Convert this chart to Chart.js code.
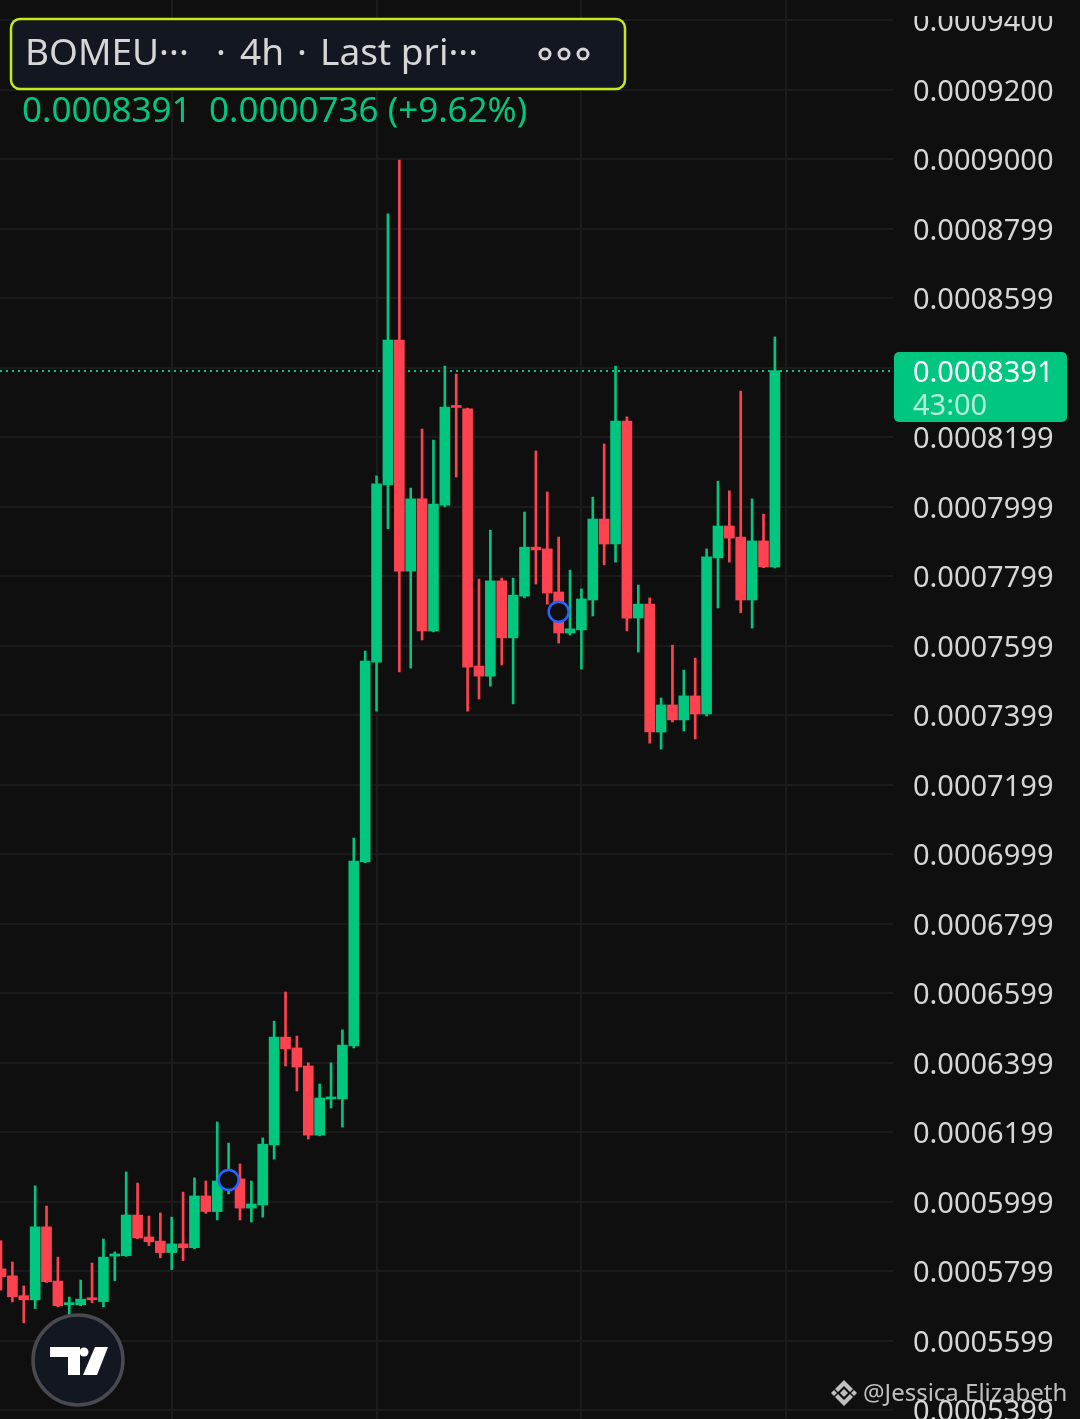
<!DOCTYPE html>
<html>
<head>
<meta charset="utf-8">
<title>BOMEUR 4h</title>
<script src="https://cdn.jsdelivr.net/npm/chart.js@4.4.1/dist/chart.umd.min.js"></script>
<style>
  html, body { margin: 0; padding: 0; background: #0f0f0f; overflow: hidden; }
  #wrap { width: 1080px; height: 1419px; position: relative; }
</style>
</head>
<body>
<div id="wrap"><canvas id="myChart"></canvas></div>
<script>
// 4h candles, oldest first
const opens = [
  0.0005806, 0.0005786, 0.0005729, 0.0005717, 0.0005927, 0.0005771, 0.0005703, 0.0005703, 0.0005723, 0.0005712,
  0.0005843, 0.0005844, 0.0005961, 0.0005898, 0.0005886, 0.0005853, 0.0005878, 0.0005867, 0.0006016, 0.0005971,
  0.0006045, 0.0006065, 0.0005981, 0.0005990, 0.0006163, 0.0006473, 0.0006442, 0.0006390, 0.0006191, 0.0006295,
  0.0006295, 0.0006448, 0.0006977, 0.0007552, 0.0008062, 0.0008479, 0.0007814, 0.0008022, 0.0007642, 0.0008004,
  0.0008289, 0.0008281, 0.0007541, 0.0007512, 0.0007786, 0.0007622, 0.0007742, 0.0007883, 0.0007878, 0.0007754,
  0.0007636, 0.0007645, 0.0007731, 0.0007964, 0.0007892, 0.0008246, 0.0007679, 0.0007719, 0.0007351, 0.0007429,
  0.0007386, 0.0007455, 0.0007403, 0.0007852, 0.0007944, 0.0007912, 0.0007731, 0.0007901, 0.0007826
];
const highs = [
  0.0005887, 0.0005826, 0.0005757, 0.0006045, 0.0005987, 0.0005840, 0.0005725, 0.0005774, 0.0005823, 0.0005892,
  0.0005855, 0.0006085, 0.0006053, 0.0005958, 0.0005967, 0.0005955, 0.0006027, 0.0006068, 0.0006059, 0.0006229,
  0.0006168, 0.0006108, 0.0006059, 0.0006183, 0.0006519, 0.0006603, 0.0006476, 0.0006399, 0.0006338, 0.0006399,
  0.0006494, 0.0007046, 0.0007584, 0.0008088, 0.0008842, 0.0008997, 0.0008053, 0.0008223, 0.0008191, 0.0008404,
  0.0008381, 0.0008283, 0.0007791, 0.0007932, 0.0007794, 0.0007794, 0.0007984, 0.0008160, 0.0008042, 0.0007912,
  0.0007817, 0.0007763, 0.0008027, 0.0008180, 0.0008404, 0.0008258, 0.0007774, 0.0007737, 0.0007449, 0.0007601,
  0.0007529, 0.0007564, 0.0007878, 0.0008073, 0.0008045, 0.0008332, 0.0008022, 0.0007978, 0.0008488
];
const lows = [
  0.0005745, 0.0005711, 0.0005651, 0.0005692, 0.0005767, 0.0005697, 0.0005654, 0.0005700, 0.0005709, 0.0005697,
  0.0005772, 0.0005842, 0.0005893, 0.0005873, 0.0005838, 0.0005804, 0.0005830, 0.0005864, 0.0005966, 0.0005947,
  0.0006022, 0.0005947, 0.0005941, 0.0005955, 0.0006122, 0.0006390, 0.0006318, 0.0006180, 0.0006189, 0.0006269,
  0.0006214, 0.0006442, 0.0006975, 0.0007411, 0.0007936, 0.0007524, 0.0007535, 0.0007616, 0.0007639, 0.0007999,
  0.0008085, 0.0007411, 0.0007446, 0.0007483, 0.0007544, 0.0007432, 0.0007737, 0.0007777, 0.0007719, 0.0007607,
  0.0007630, 0.0007532, 0.0007685, 0.0007832, 0.0007840, 0.0007642, 0.0007581, 0.0007319, 0.0007302, 0.0007380,
  0.0007354, 0.0007331, 0.0007397, 0.0007708, 0.0007840, 0.0007694, 0.0007650, 0.0007824, 0.0007823
];
const closes = [
  0.0005784, 0.0005726, 0.0005717, 0.0005927, 0.0005769, 0.0005700, 0.0005709, 0.0005719, 0.0005717, 0.0005840,
  0.0005849, 0.0005961, 0.0005895, 0.0005884, 0.0005853, 0.0005878, 0.0005867, 0.0006016, 0.0005971, 0.0006059,
  0.0006073, 0.0005981, 0.0005993, 0.0006165, 0.0006473, 0.0006439, 0.0006387, 0.0006191, 0.0006298, 0.0006301,
  0.0006450, 0.0006980, 0.0007555, 0.0008065, 0.0008479, 0.0007814, 0.0008022, 0.0007642, 0.0008007, 0.0008286,
  0.0008285, 0.0007538, 0.0007512, 0.0007786, 0.0007622, 0.0007745, 0.0007883, 0.0007875, 0.0007751, 0.0007636,
  0.0007648, 0.0007734, 0.0007964, 0.0007892, 0.0008246, 0.0007679, 0.0007719, 0.0007351, 0.0007429, 0.0007386,
  0.0007455, 0.0007403, 0.0007855, 0.0007944, 0.0007909, 0.0007731, 0.0007901, 0.0007826, 0.0008391
];

// blue event circles on the chart
const markerIndex = [20, 49];
const markerPrice = [0.0006062, 0.0007697];

// price axis
const tickValues = [0.00094, 0.00092, 0.00090, 0.00088, 0.00086, 0.00084, 0.00082, 0.00080, 0.00078, 0.00076,
  0.00074, 0.00072, 0.00070, 0.00068, 0.00066, 0.00064, 0.00062, 0.00060, 0.00058, 0.00056, 0.00054];
const tickLabels = ["0.0009400", "0.0009200", "0.0009000", "0.0008799", "0.0008599", "0.0008399", "0.0008199",
  "0.0007999", "0.0007799", "0.0007599", "0.0007399", "0.0007199", "0.0006999", "0.0006799", "0.0006599",
  "0.0006399", "0.0006199", "0.0005999", "0.0005799", "0.0005599", "0.0005399"];

// vertical separators (candle index)
const dayTicks = [15, 33, 51, 69];

const headerChange = "0.0000736 (+9.62%)";
const countdown = "43:00";

const BG = "#0f0f0f";
const GRID = "#1b1b1b";
const UP = "#00c67f";
const DOWN = "#ff424f";
const TEXT = "#d6d6d6";
const FONT = '"Noto Sans", "Open Sans", sans-serif';

const idx = closes.map((c, i) => i);
const candleColor = (i) => (closes[i] >= opens[i] ? UP : DOWN);

const overlay = {
  id: "overlay",
  beforeDraw(chart) {
    const c = chart.ctx;
    c.save();
    c.fillStyle = BG;
    c.fillRect(0, 0, chart.width, chart.height);
    c.restore();
  },
  beforeDatasetsDraw(chart) {
    const c = chart.ctx;
    const a = chart.chartArea;
    const py = Math.round(chart.scales.y.getPixelForValue(closes[closes.length - 1]));
    c.save();
    c.strokeStyle = UP;
    c.lineWidth = 2;
    c.setLineDash([2, 4]);
    c.beginPath();
    c.moveTo(a.left, py);
    c.lineTo(a.right, py);
    c.stroke();
    c.restore();
  },
  afterDraw(chart) {
    const c = chart.ctx;
    const a = chart.chartArea;
    const last = closes[closes.length - 1];
    const py = Math.round(chart.scales.y.getPixelForValue(last));
    c.save();

    // axis pane starts a little below the top
    c.fillStyle = BG;
    c.fillRect(a.right, 0, chart.width - a.right, 16);

    // last price box
    c.fillStyle = UP;
    c.beginPath();
    c.roundRect(a.right + 1, py - 19, 173, 70, 5);
    c.fill();
    c.textBaseline = "middle";
    c.textAlign = "left";
    c.font = "29px " + FONT;
    c.fillStyle = "#ffffff";
    c.fillText(last.toFixed(7), a.right + 20, py + 3);
    c.fillStyle = "rgba(255,255,255,0.7)";
    c.fillText(countdown, a.right + 20, py + 36);

    // header
    c.fillStyle = "#131722";
    c.strokeStyle = "#c5ea1c";
    c.lineWidth = 2.5;
    c.beginPath();
    c.roundRect(11, 19, 614, 70, 9);
    c.fill();
    c.stroke();
    c.fillStyle = TEXT;
    c.font = "37px " + FONT;
    c.fillText("BOMEU\u00B7\u00B7\u00B7", 25, 54);
    c.fillText("\u00B7", 216, 54);
    c.fillText("4h", 240, 54);
    c.fillText("\u00B7", 297, 54);
    c.fillText("Last pri\u00B7\u00B7\u00B7", 320, 54);
    c.strokeStyle = TEXT;
    c.lineWidth = 3;
    [545, 564, 583].forEach((x) => {
      c.beginPath();
      c.arc(x, 54, 5, 0, Math.PI * 2);
      c.stroke();
    });
    c.fillStyle = UP;
    c.font = "35px " + FONT;
    c.fillText(last.toFixed(7), 22, 112);
    c.fillText(headerChange, 209, 112);

    // TradingView badge
    c.fillStyle = "#131722";
    c.strokeStyle = "#4a4a4e";
    c.lineWidth = 3.5;
    c.beginPath();
    c.arc(78, 1360, 45, 0, Math.PI * 2);
    c.fill();
    c.stroke();
    c.fillStyle = "#ffffff";
    c.beginPath();
    c.moveTo(50, 1347); c.lineTo(80, 1347); c.lineTo(80, 1375);
    c.lineTo(68, 1375); c.lineTo(68, 1357); c.lineTo(50, 1357);
    c.closePath();
    c.fill();
    c.beginPath();
    c.arc(84, 1352, 4.5, 0, Math.PI * 2);
    c.fill();
    c.beginPath();
    c.moveTo(95, 1347); c.lineTo(108, 1347); c.lineTo(97, 1375); c.lineTo(83, 1375);
    c.closePath();
    c.fill();

    // watermark
    c.fillStyle = "rgba(222,222,222,0.85)";
    const diamond = (x, y, r) => {
      c.beginPath();
      c.moveTo(x, y - r); c.lineTo(x + r, y); c.lineTo(x, y + r); c.lineTo(x - r, y);
      c.closePath();
      c.fill();
    };
    diamond(844, 1393, 4);
    diamond(834, 1393, 3);
    diamond(854, 1393, 3);
    c.beginPath();
    c.moveTo(844, 1380); c.lineTo(853, 1389); c.lineTo(850, 1392); c.lineTo(844, 1386);
    c.lineTo(838, 1392); c.lineTo(835, 1389); c.closePath();
    c.fill();
    c.beginPath();
    c.moveTo(844, 1406); c.lineTo(853, 1397); c.lineTo(850, 1394); c.lineTo(844, 1400);
    c.lineTo(838, 1394); c.lineTo(835, 1397); c.closePath();
    c.fill();
    c.font = "24px " + FONT;
    c.fillText("@Jessica Elizabeth", 863, 1394);

    c.restore();
  },
};

const ctx = document.getElementById("myChart").getContext("2d");

const candleChart = new Chart(ctx, {
  type: "bar",
  data: {
    datasets: [
      {
        type: "line",
        data: markerIndex.map((i, k) => ({ x: i, y: markerPrice[k] })),
        showLine: false,
        pointRadius: 10,
        pointBorderWidth: 2.5,
        pointBorderColor: "#2962ff",
        pointBackgroundColor: BG,
        order: 0,
      },
      {
        data: idx.map((i) => ({ x: i, y: [opens[i], closes[i]] })),
        backgroundColor: (c) => candleColor(c.dataIndex),
        barThickness: 10,
        minBarLength: 2,
        grouped: false,
        borderWidth: 0,
        order: 1,
      },
      {
        data: idx.map((i) => ({ x: i, y: [lows[i], highs[i]] })),
        backgroundColor: (c) => candleColor(c.dataIndex),
        barThickness: 2,
        grouped: false,
        borderWidth: 0,
        order: 2,
      },
    ],
  },
  options: {
    responsive: true,
    maintainAspectRatio: false,
    animation: false,
    layout: { padding: 0, autoPadding: false },
    plugins: { legend: { display: false }, tooltip: { enabled: false } },
    scales: {
      x: {
        type: "linear",
        min: -0.088,
        max: 78.38,
        offset: false,
        afterBuildTicks: (s) => { s.ticks = dayTicks.map((v) => ({ value: v })); },
        afterFit: (s) => { s.height = 0; },
        ticks: { display: false },
        grid: { color: GRID, lineWidth: 2, drawTicks: false, offset: false },
        border: { display: false },
      },
      y: {
        position: "right",
        min: 0.00053741,
        max: 0.00094576,
        afterBuildTicks: (s) => { s.ticks = tickValues.map((v) => ({ value: v })); },
        afterFit: (s) => { s.width = 187; s.paddingTop = 0; s.paddingBottom = 0; },
        ticks: {
          color: TEXT,
          font: { family: FONT, size: 29 },
          padding: 20,
          labelOffset: 3,
          autoSkip: false,
          callback: (v) => {
            const k = tickValues.findIndex((t) => Math.abs(t - v) < 1e-9);
            return k >= 0 ? tickLabels[k] : "";
          },
        },
        grid: { color: GRID, lineWidth: 2, drawTicks: false },
        border: { display: false },
      },
    },
  },
  plugins: [overlay],
});
</script>
</body>
</html>
